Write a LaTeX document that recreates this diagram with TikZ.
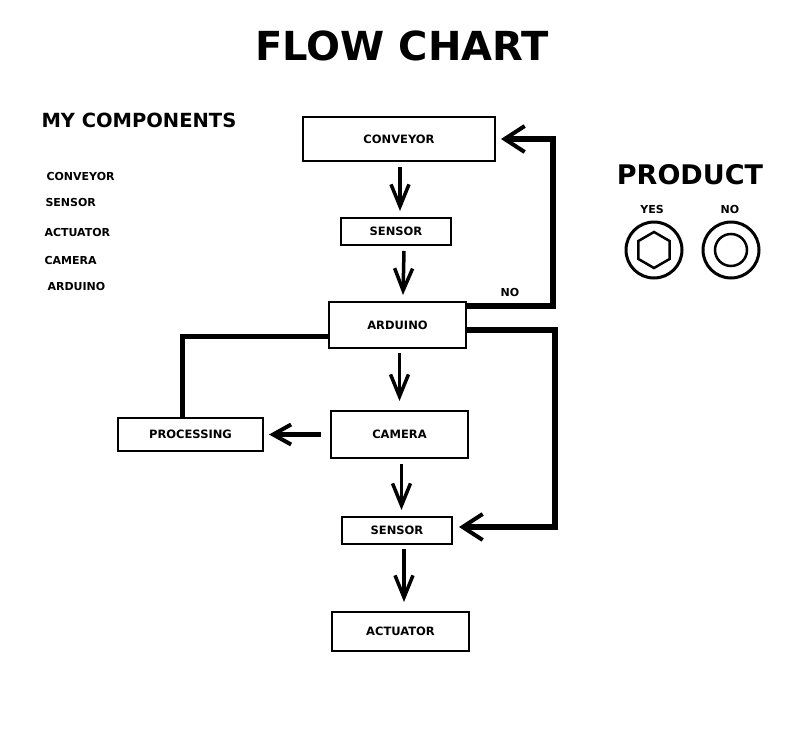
\documentclass[tikz,border=0pt]{standalone}
\usepackage{fontspec}
\setmainfont{DejaVu Sans}
\usetikzlibrary{arrows.meta,shapes.geometric,calc}
\begin{document}
\begin{tikzpicture}[x=1pt,y=-1pt,
  box/.style={draw,line width=2pt,inner sep=0pt,font=\bfseries\fontsize{11.5}{12}\selectfont},
  arr/.style={line width=3.5pt,-{Straight Barb[length=22pt,width=18pt,line width=3.5pt]}},
  harr/.style={line width=4.5pt,-{Straight Barb[length=18pt,width=20pt,line width=4pt]}},
  fb/.style={line width=6pt,-{Straight Barb[length=20pt,width=26pt,line width=4pt]}},
  ln/.style={line width=5pt},
  lbl/.style={font=\bfseries\fontsize{11}{12}\selectfont,anchor=west}]
\useasboundingbox[fill=white] (0,0) rectangle (804,750);
\node[font=\bfseries\fontsize{40}{42}\selectfont] (title) at (402,46) {FLOW CHART};
\node[font=\bfseries\fontsize{19.5}{20}\selectfont,anchor=west] (mc) at (38,120) {MY COMPONENTS};
\node[lbl] (l1) at (43,176) {CONVEYOR};
\node[lbl] (l2) at (42,202) {SENSOR};
\node[lbl] (l3) at (41,232) {ACTUATOR};
\node[lbl] (l4) at (41,260) {CAMERA};
\node[lbl] (l5) at (44,286) {ARDUINO};
\node[font=\bfseries\fontsize{27}{28}\selectfont] (prod) at (690,175) {PRODUCT};
\node[lbl,anchor=center] (yes) at (652,209) {YES};
\node[lbl,anchor=center] (no) at (730,209) {NO};
\node[draw,circle,line width=3pt,minimum size=56pt,inner sep=0pt] (c1) at (654,250) {};
\node[draw,regular polygon,regular polygon sides=6,rotate=30,line width=2.5pt,minimum size=36pt,inner sep=0pt] (hx) at (654,250) {};
\node[draw,circle,line width=3pt,minimum size=56pt,inner sep=0pt] (c2) at (731,250) {};
\node[draw,circle,line width=2.5pt,minimum size=32pt,inner sep=0pt] (c3) at (731,250) {};

\node[box,minimum width=192pt,minimum height=44pt] (conv) at (399,139) {CONVEYOR};
\node[box,minimum width=110pt,minimum height=27pt] (s1) at (396,231.5) {SENSOR};
\node[box,minimum width=137pt,minimum height=46pt] (ard) at (397.5,325) {ARDUINO};
\node[box,minimum width=137pt,minimum height=47pt] (cam) at (399.5,434.5) {CAMERA};
\node[box,minimum width=145pt,minimum height=33pt] (proc) at (190.5,434.5) {PROCESSING};
\node[box,minimum width=110pt,minimum height=27pt] (s2) at (397,530.5) {SENSOR};
\node[box,minimum width=137pt,minimum height=39pt] (act) at (400.5,631.5) {ACTUATOR};
\node[font=\bfseries\fontsize{11}{12}\selectfont] (nolbl) at (510,292) {NO};

\draw[arr] ($(conv.south)+(1,5)$) -- ($(s1.north)+(4,-6)$);
\draw[arr] ($(s1.south)+(8,5)$) -- ($(ard.north)+(5.5,-6)$);
\draw[arr] ($(ard.south)+(2,4)$) -- ($(cam.north)+(0,-9)$);
\draw[arr] ($(cam.south)+(2,5)$) -- ($(s2.north)+(4.5,-6)$);
\draw[arr] ($(s2.south)+(7,4)$) -- ($(act.north)+(3.5,-9)$);
\draw[harr] ($(cam.west)+(-9,0)$) -- ($(proc.east)+(5,0)$);
\draw[fb] ($(ard.east)+(0,-19)$) -- (553,306) -- (553,139) -- ($(conv.east)+(5,0)$);
\draw[fb] ($(ard.east)+(0,5)$) -- (555,330) -- (555,527) -- ($(s2.east)+(6,-3.5)$);
\draw[ln] ($(ard.west)+(0,11)$) -- (182,336) -- (182,418) -- (proc.north -| 182,418);
\end{tikzpicture}
\end{document}
